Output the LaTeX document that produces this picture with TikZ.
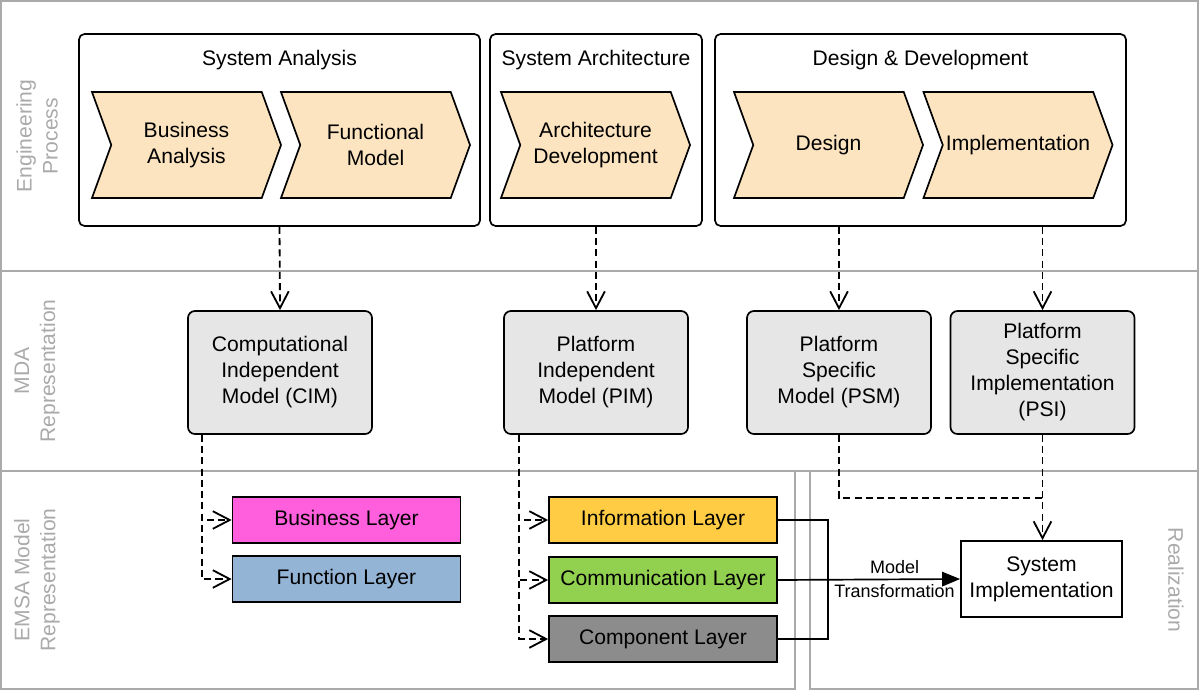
\documentclass[tikz,border=0pt]{standalone}
\usepackage{fontspec}
\setmainfont{Liberation Sans}
\usetikzlibrary{shapes.symbols,arrows.meta}
\definecolor{lanegray}{RGB}{170,170,170}
\definecolor{chevfill}{RGB}{252,228,192}
\definecolor{boxgray}{RGB}{230,230,230}
\definecolor{busmag}{RGB}{255,95,220}
\definecolor{funblue}{RGB}{148,180,214}
\definecolor{infoyel}{RGB}{255,204,68}
\definecolor{comgreen}{RGB}{146,208,80}
\definecolor{compgray}{RGB}{140,140,140}

\begin{document}
\begin{tikzpicture}[x=0.025cm,y=-0.025cm,
  every node/.style={font=\fontsize{15}{18.5}\selectfont},
  lane/.style={draw=lanegray,line width=1.4pt},
  lanename/.style={text=lanegray,align=center},
  phase/.style={draw,rounded corners=4pt,line width=1.2pt,minimum height=4.8cm},
  chev/.style={signal,signal from=west,signal to=east,signal pointer angle=140,draw,line width=1.2pt,
    fill=chevfill,minimum width=4.725cm,minimum height=2.65cm,inner xsep=1pt,align=center},
  mda/.style={draw,rounded corners=5pt,line width=1.2pt,fill=boxgray,minimum width=4.6cm,minimum height=3.075cm,align=center},
  layer/.style={draw,line width=1.2pt,minimum width=5.7cm,minimum height=1.15cm},
  dashline/.style={dash pattern=on 5pt off 3pt,line width=1.3pt},
  dasharrow/.style={dashline,-{Straight Barb[length=4.2mm,width=4.4mm]}}]
\useasboundingbox (0,0) rectangle (1200,691);

% lanes
\draw[lane] (1,1) rectangle (1198,471);
\draw[lane] (1,271) -- (1198,271);
\draw[lane] (1,471) rectangle (795,689);
\draw[lane] (810,471) rectangle (1198,689);
\node[lanename,rotate=90] (lep) at (37,136) {Engineering\\Process};
\node[lanename,rotate=90] (lmda) at (37,371) {MDA\\Representation};
\node[lanename,rotate=90] (lemsa) at (37,580) {EMSA Model\\Representation};
\node[lanename,rotate=-90] (lreal) at (1176,580) {Realization};

% engineering process
\node[phase,minimum width=10.025cm] (sa) at (279.5,130) {};
\node[phase,minimum width=5.3cm] (arch) at (596,130) {};
\node[phase,minimum width=10.275cm] (dd) at (920.5,130) {};
\node (tsa) at ([yshift=-0.68cm]sa.north) {System Analysis};
\node (tarch) at ([yshift=-0.68cm]arch.north) {System Architecture};
\node (tdd) at ([yshift=-0.68cm]dd.north) {Design \& Development};
\node[chev] (ba) at (186.5,145) {Business\\Analysis};
\node[chev] (fm) at (375.5,145) {Functional\\Model};
\node[chev] (ad) at (595.5,145) {Architecture\\Development};
\node[chev] (de) at (828.5,145) {Design};
\node[chev] (im) at (1018,145) {Implementation};

% MDA
\node[mda] (cim) at (280,372.5) {Computational\\Independent\\Model (CIM)};
\node[mda] (pim) at (596,372.5) {Platform\\Independent\\Model (PIM)};
\node[mda] (psm) at (839,372.5) {Platform\\Specific\\Model (PSM)};
\node[mda] (psi) at (1042.5,372.5) {Platform\\Specific\\Implementation\\(PSI)};

% EMSA layers
\node[layer,fill=busmag] (bl) at (346.5,520) {Business Layer};
\node[layer,fill=funblue] (fl) at (346.5,579) {Function Layer};
\node[layer,fill=infoyel] (il) at (663,520) {Information Layer};
\node[layer,fill=comgreen] (cl) at (663,580) {Communication Layer};
\node[layer,fill=compgray] (col) at (663,639) {Component Layer};
\node[draw,line width=1.2pt,minimum width=4.025cm,minimum height=1.9cm,align=center] (si) at (1041.5,579) {System\\Implementation};

% connectors
\draw[dasharrow] (sa.south) -- (cim.north);
\draw[dasharrow] (arch.south) -- (pim.north);
\draw[dasharrow] (dd.south -| psm.north) -- (psm.north);
\draw[dasharrow] (dd.south -| psi.north) -- (psi.north);
\draw[dasharrow] ([xshift=0.375cm]cim.south west) |- (bl.west);
\draw[dasharrow] ([xshift=0.375cm]cim.south west) |- (fl.west);
\foreach \n in {il,cl,col}
  \draw[dasharrow] ([xshift=0.4cm]pim.south west) |- (\n.west);
\coordinate (merge) at (1042,498);
\draw[dashline] (psm.south) |- (merge);
\draw[dasharrow] (psi.south) -- (psi.south |- si.north);
\coordinate (jn) at (828,580);
\draw[line width=1.2pt] (il.east) -| (jn) |- (col.east);
\draw[line width=1.2pt,-{Triangle[length=4.5mm,width=3.6mm]}] (cl.east) --
  node[pos=0.64,above,font=\fontsize{12.8}{16}\selectfont] (lmod) {Model}
  node[pos=0.64,below,font=\fontsize{12.8}{16}\selectfont] (ltra) {Transformation} (si.west);
\end{tikzpicture}
\end{document}
